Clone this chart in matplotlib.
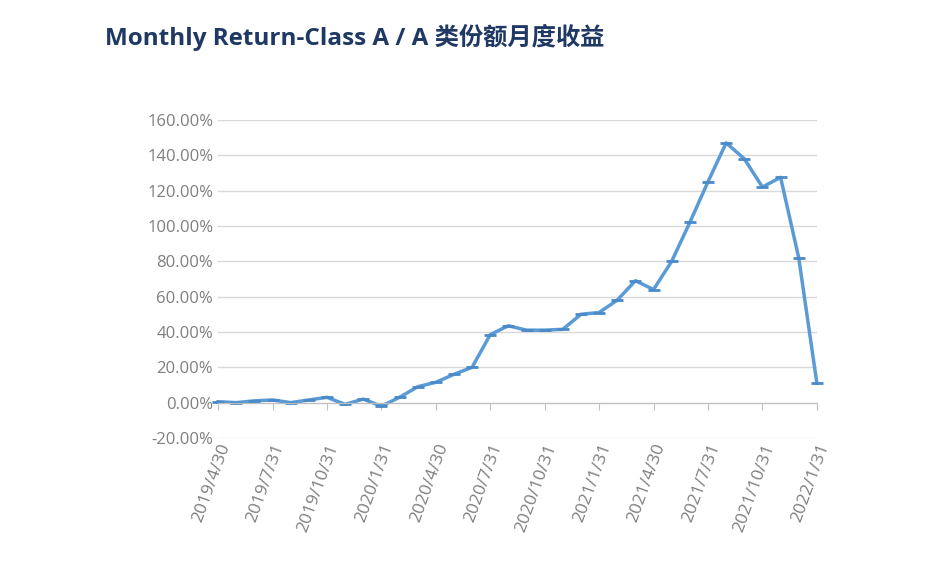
import matplotlib
matplotlib.use("Agg")
import matplotlib.pyplot as plt

plt.rcParams['font.family'] = ['Open Sans', 'Noto Sans CJK SC', 'DejaVu Sans']

months = []
for y in range(2019, 2023):
    for m in range(1, 13):
        months.append((y, m))
months = months[3:3+34]
mdays = {1:31,2:28,3:31,4:30,5:31,6:30,7:31,8:31,9:30,10:31,11:30,12:31}
dates = [f"{y}/{m}/{mdays[m] + (1 if (m==2 and y%4==0) else 0)}" for y, m in months]
values = [0.5, 0, 1, 1.5, 0, 1.5, 3, -1, 2, -2, 3, 9, 11.5, 16, 20, 38.5, 43.5, 41, 41, 41.5,
          50, 51, 58, 69, 64, 80, 102, 125, 147, 138, 122, 127.5, 82, 11]

fig = plt.figure(figsize=(9.4, 5.71), dpi=100)
ax = fig.add_axes([0.232, 0.233, 0.637, 0.557])
x = list(range(len(values)))
ax.plot(x, values, color='#5b9bd5', lw=2.5, marker='_', markersize=9, mew=2,
        markeredgecolor='#4a8ac8', clip_on=False)
ax.set_xlim(0, len(values)-1)
ax.set_ylim(-20, 160)
ax.set_yticks(range(-20, 161, 20))
ax.set_yticklabels([f"{v:.2f}%" for v in range(-20, 161, 20)], color='#7f7f7f', fontsize=12)
ax.grid(axis='y', color='#d9d9d9', lw=1)
ax.set_axisbelow(True)
for s in ['top', 'right', 'left']:
    ax.spines[s].set_visible(False)
ax.spines['bottom'].set_position(('data', 0))
ax.spines['bottom'].set_color('#bfbfbf')
ax.tick_params(axis='y', length=0)
ax.set_xticks(x[::3] + [x[-1]])
ax.set_xticklabels([])
ax.tick_params(axis='x', length=5, color='#bfbfbf', direction='out')
for i in range(0, len(values), 3):
    ax.text(i, -22, dates[i], rotation=70, ha='right', va='top', fontsize=12.5,
            color='#7f7f7f', rotation_mode='anchor', transform=ax.transData)
fig.text(0.112, 0.935, "Monthly Return-Class A / A 类份额月度收益", fontsize=17.5,
         fontweight='bold', color='#1f3864', va='center')
fig.savefig("out.png", dpi=100)
